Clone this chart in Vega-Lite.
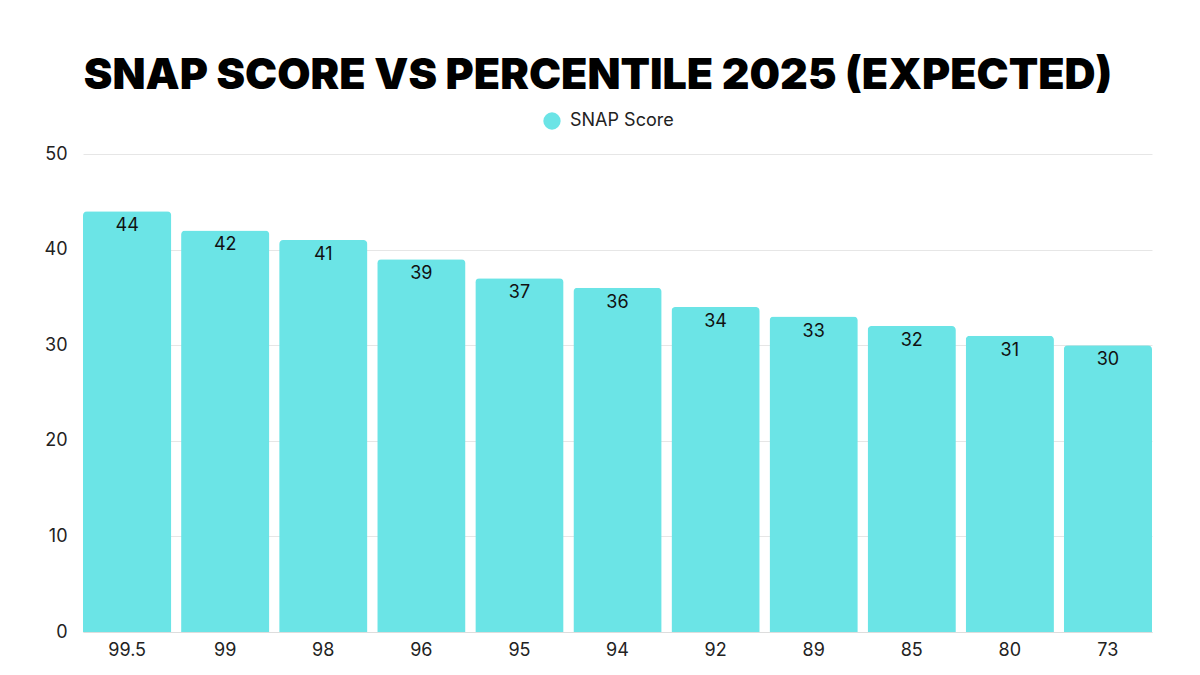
{
  "$schema": "https://vega.github.io/schema/vega-lite/v6.json",
  "width": 1200, "height": 675,
  "autosize": {"type": "fit", "contains": "padding"},
  "padding": {"left": 44, "right": 48, "top": 55, "bottom": 16},
  "background": "white",
  "config": {"view": {"stroke": null}, "font": "Inter"},
  "title": {
    "text": "SNAP SCORE VS PERCENTILE 2025 (EXPECTED)",
    "font": "Inter", "fontSize": 43, "fontWeight": 900, "color": "#000000",
    "anchor": "middle", "frame": "bounds", "offset": 47
  },
  "data": {"values": [
    {"percentile": "99.5", "score": 44},
    {"percentile": "99", "score": 42},
    {"percentile": "98", "score": 41},
    {"percentile": "96", "score": 39},
    {"percentile": "95", "score": 37},
    {"percentile": "94", "score": 36},
    {"percentile": "92", "score": 34},
    {"percentile": "89", "score": 33},
    {"percentile": "85", "score": 32},
    {"percentile": "80", "score": 31},
    {"percentile": "73", "score": 30}
  ]},
  "encoding": {
    "x": {
      "field": "percentile", "type": "ordinal", "sort": null, "title": null,
      "scale": {"paddingInner": 0.1, "paddingOuter": 0},
      "axis": {"labelAngle": 0, "labelFontSize": 18, "labelColor": "#222", "ticks": false,
               "domainColor": "#dddddd", "labelPadding": 9}
    },
    "y": {
      "field": "score", "type": "quantitative", "title": null,
      "scale": {"domain": [0, 50]},
      "axis": {"values": [0, 10, 20, 30, 40, 50], "labelFontSize": 18, "labelColor": "#222",
               "ticks": false, "domain": false, "gridColor": "#e6e6e6", "labelPadding": 16}
    }
  },
  "layer": [
    {
      "mark": {"type": "bar", "cornerRadiusTopLeft": 4, "cornerRadiusTopRight": 4},
      "encoding": {
        "color": {
          "datum": "SNAP Score", "type": "nominal",
          "scale": {"range": ["#6BE4E6"]},
          "legend": {"orient": "none", "legendX": 460, "legendY": -42, "title": null,
                     "symbolType": "circle", "symbolSize": 300, "labelOffset": 9,
                     "labelFontSize": 18, "labelColor": "#222", "symbolStrokeWidth": 0}
        }
      }
    },
    {
      "mark": {"type": "text", "baseline": "top", "dy": 6, "fontSize": 18, "color": "#111"},
      "encoding": {"text": {"field": "score", "type": "quantitative"}}
    }
  ]
}
